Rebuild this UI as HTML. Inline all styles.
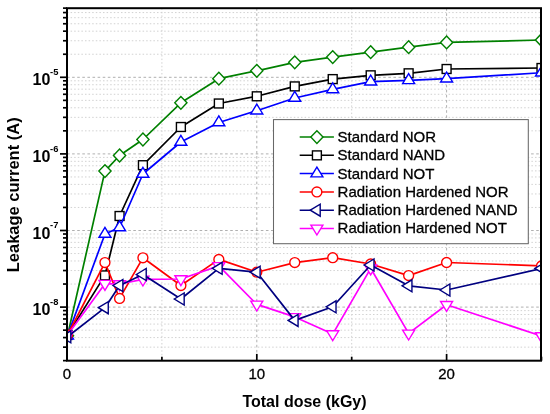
<!DOCTYPE html>
<html><head><meta charset="utf-8"><style>html,body{margin:0;padding:0;background:#fff;width:550px;height:414px;overflow:hidden;position:relative}</style></head>
<body>
<svg width="550" height="414" viewBox="0 0 550 414" style="position:absolute;left:0;top:0">
<defs><clipPath id="pc"><rect x="67.0" y="8.2" width="474.0" height="352.5"/></clipPath></defs>
<line x1="67.0" x2="541.0" y1="347.15" y2="347.15" stroke="#d2d2d2" stroke-width="1" stroke-dasharray="1.5 2.1"/>
<line x1="67.0" x2="541.0" y1="337.58" y2="337.58" stroke="#d2d2d2" stroke-width="1" stroke-dasharray="1.5 2.1"/>
<line x1="67.0" x2="541.0" y1="330.16" y2="330.16" stroke="#d2d2d2" stroke-width="1" stroke-dasharray="1.5 2.1"/>
<line x1="67.0" x2="541.0" y1="324.09" y2="324.09" stroke="#d2d2d2" stroke-width="1" stroke-dasharray="1.5 2.1"/>
<line x1="67.0" x2="541.0" y1="318.97" y2="318.97" stroke="#d2d2d2" stroke-width="1" stroke-dasharray="1.5 2.1"/>
<line x1="67.0" x2="541.0" y1="314.52" y2="314.52" stroke="#d2d2d2" stroke-width="1" stroke-dasharray="1.5 2.1"/>
<line x1="67.0" x2="541.0" y1="310.61" y2="310.61" stroke="#d2d2d2" stroke-width="1" stroke-dasharray="1.5 2.1"/>
<line x1="67.0" x2="541.0" y1="307.10" y2="307.10" stroke="#b0b0b0" stroke-width="1" stroke-dasharray="2.6 2.5"/>
<line x1="67.0" x2="541.0" y1="284.04" y2="284.04" stroke="#d2d2d2" stroke-width="1" stroke-dasharray="1.5 2.1"/>
<line x1="67.0" x2="541.0" y1="270.55" y2="270.55" stroke="#d2d2d2" stroke-width="1" stroke-dasharray="1.5 2.1"/>
<line x1="67.0" x2="541.0" y1="260.98" y2="260.98" stroke="#d2d2d2" stroke-width="1" stroke-dasharray="1.5 2.1"/>
<line x1="67.0" x2="541.0" y1="253.56" y2="253.56" stroke="#d2d2d2" stroke-width="1" stroke-dasharray="1.5 2.1"/>
<line x1="67.0" x2="541.0" y1="247.49" y2="247.49" stroke="#d2d2d2" stroke-width="1" stroke-dasharray="1.5 2.1"/>
<line x1="67.0" x2="541.0" y1="242.37" y2="242.37" stroke="#d2d2d2" stroke-width="1" stroke-dasharray="1.5 2.1"/>
<line x1="67.0" x2="541.0" y1="237.92" y2="237.92" stroke="#d2d2d2" stroke-width="1" stroke-dasharray="1.5 2.1"/>
<line x1="67.0" x2="541.0" y1="234.01" y2="234.01" stroke="#d2d2d2" stroke-width="1" stroke-dasharray="1.5 2.1"/>
<line x1="67.0" x2="541.0" y1="230.50" y2="230.50" stroke="#b0b0b0" stroke-width="1" stroke-dasharray="2.6 2.5"/>
<line x1="67.0" x2="541.0" y1="207.44" y2="207.44" stroke="#d2d2d2" stroke-width="1" stroke-dasharray="1.5 2.1"/>
<line x1="67.0" x2="541.0" y1="193.95" y2="193.95" stroke="#d2d2d2" stroke-width="1" stroke-dasharray="1.5 2.1"/>
<line x1="67.0" x2="541.0" y1="184.38" y2="184.38" stroke="#d2d2d2" stroke-width="1" stroke-dasharray="1.5 2.1"/>
<line x1="67.0" x2="541.0" y1="176.96" y2="176.96" stroke="#d2d2d2" stroke-width="1" stroke-dasharray="1.5 2.1"/>
<line x1="67.0" x2="541.0" y1="170.89" y2="170.89" stroke="#d2d2d2" stroke-width="1" stroke-dasharray="1.5 2.1"/>
<line x1="67.0" x2="541.0" y1="165.77" y2="165.77" stroke="#d2d2d2" stroke-width="1" stroke-dasharray="1.5 2.1"/>
<line x1="67.0" x2="541.0" y1="161.32" y2="161.32" stroke="#d2d2d2" stroke-width="1" stroke-dasharray="1.5 2.1"/>
<line x1="67.0" x2="541.0" y1="157.41" y2="157.41" stroke="#d2d2d2" stroke-width="1" stroke-dasharray="1.5 2.1"/>
<line x1="67.0" x2="541.0" y1="153.90" y2="153.90" stroke="#b0b0b0" stroke-width="1" stroke-dasharray="2.6 2.5"/>
<line x1="67.0" x2="541.0" y1="130.84" y2="130.84" stroke="#d2d2d2" stroke-width="1" stroke-dasharray="1.5 2.1"/>
<line x1="67.0" x2="541.0" y1="117.35" y2="117.35" stroke="#d2d2d2" stroke-width="1" stroke-dasharray="1.5 2.1"/>
<line x1="67.0" x2="541.0" y1="107.78" y2="107.78" stroke="#d2d2d2" stroke-width="1" stroke-dasharray="1.5 2.1"/>
<line x1="67.0" x2="541.0" y1="100.36" y2="100.36" stroke="#d2d2d2" stroke-width="1" stroke-dasharray="1.5 2.1"/>
<line x1="67.0" x2="541.0" y1="94.29" y2="94.29" stroke="#d2d2d2" stroke-width="1" stroke-dasharray="1.5 2.1"/>
<line x1="67.0" x2="541.0" y1="89.17" y2="89.17" stroke="#d2d2d2" stroke-width="1" stroke-dasharray="1.5 2.1"/>
<line x1="67.0" x2="541.0" y1="84.72" y2="84.72" stroke="#d2d2d2" stroke-width="1" stroke-dasharray="1.5 2.1"/>
<line x1="67.0" x2="541.0" y1="80.81" y2="80.81" stroke="#d2d2d2" stroke-width="1" stroke-dasharray="1.5 2.1"/>
<line x1="67.0" x2="541.0" y1="77.30" y2="77.30" stroke="#b0b0b0" stroke-width="1" stroke-dasharray="2.6 2.5"/>
<line x1="67.0" x2="541.0" y1="54.24" y2="54.24" stroke="#d2d2d2" stroke-width="1" stroke-dasharray="1.5 2.1"/>
<line x1="67.0" x2="541.0" y1="40.75" y2="40.75" stroke="#d2d2d2" stroke-width="1" stroke-dasharray="1.5 2.1"/>
<line x1="67.0" x2="541.0" y1="31.18" y2="31.18" stroke="#d2d2d2" stroke-width="1" stroke-dasharray="1.5 2.1"/>
<line x1="67.0" x2="541.0" y1="23.76" y2="23.76" stroke="#d2d2d2" stroke-width="1" stroke-dasharray="1.5 2.1"/>
<line x1="67.0" x2="541.0" y1="17.69" y2="17.69" stroke="#d2d2d2" stroke-width="1" stroke-dasharray="1.5 2.1"/>
<line x1="67.0" x2="541.0" y1="12.57" y2="12.57" stroke="#d2d2d2" stroke-width="1" stroke-dasharray="1.5 2.1"/>
<line x1="161.90" x2="161.90" y1="8.2" y2="360.7" stroke="#d2d2d2" stroke-width="1" stroke-dasharray="1.5 2.1"/>
<line x1="256.80" x2="256.80" y1="8.2" y2="360.7" stroke="#b0b0b0" stroke-width="1" stroke-dasharray="2.6 2.5"/>
<line x1="351.70" x2="351.70" y1="8.2" y2="360.7" stroke="#d2d2d2" stroke-width="1" stroke-dasharray="1.5 2.1"/>
<line x1="446.60" x2="446.60" y1="8.2" y2="360.7" stroke="#b0b0b0" stroke-width="1" stroke-dasharray="2.6 2.5"/>
<g clip-path="url(#pc)">
<polyline points="67.49,335.70 104.96,171.10 119.57,155.50 142.92,139.50 180.88,102.80 218.84,78.70 256.80,70.80 294.76,62.30 332.72,57.10 370.68,52.20 408.64,47.20 446.60,42.40 541.50,40.00" fill="none" stroke="#008000" stroke-width="1.7" stroke-linejoin="round"/>
<path d="M67.49 329.30L73.59 335.70L67.49 342.10L61.39 335.70Z" fill="#fff" stroke="#008000" stroke-width="1.4"/>
<path d="M104.96 164.70L111.06 171.10L104.96 177.50L98.86 171.10Z" fill="#fff" stroke="#008000" stroke-width="1.4"/>
<path d="M119.57 149.10L125.67 155.50L119.57 161.90L113.47 155.50Z" fill="#fff" stroke="#008000" stroke-width="1.4"/>
<path d="M142.92 133.10L149.02 139.50L142.92 145.90L136.82 139.50Z" fill="#fff" stroke="#008000" stroke-width="1.4"/>
<path d="M180.88 96.40L186.98 102.80L180.88 109.20L174.78 102.80Z" fill="#fff" stroke="#008000" stroke-width="1.4"/>
<path d="M218.84 72.30L224.94 78.70L218.84 85.10L212.74 78.70Z" fill="#fff" stroke="#008000" stroke-width="1.4"/>
<path d="M256.80 64.40L262.90 70.80L256.80 77.20L250.70 70.80Z" fill="#fff" stroke="#008000" stroke-width="1.4"/>
<path d="M294.76 55.90L300.86 62.30L294.76 68.70L288.66 62.30Z" fill="#fff" stroke="#008000" stroke-width="1.4"/>
<path d="M332.72 50.70L338.82 57.10L332.72 63.50L326.62 57.10Z" fill="#fff" stroke="#008000" stroke-width="1.4"/>
<path d="M370.68 45.80L376.78 52.20L370.68 58.60L364.58 52.20Z" fill="#fff" stroke="#008000" stroke-width="1.4"/>
<path d="M408.64 40.80L414.74 47.20L408.64 53.60L402.54 47.20Z" fill="#fff" stroke="#008000" stroke-width="1.4"/>
<path d="M446.60 36.00L452.70 42.40L446.60 48.80L440.50 42.40Z" fill="#fff" stroke="#008000" stroke-width="1.4"/>
<path d="M541.50 33.60L547.60 40.00L541.50 46.40L535.40 40.00Z" fill="#fff" stroke="#008000" stroke-width="1.4"/>
<polyline points="67.49,335.00 104.96,275.40 119.57,216.00 142.92,165.20 180.88,127.00 218.84,103.50 256.80,96.30 294.76,86.40 332.72,79.10 370.68,75.30 408.64,73.30 446.60,69.00 541.50,68.00" fill="none" stroke="#000000" stroke-width="1.7" stroke-linejoin="round"/>
<rect x="63.04" y="330.55" width="8.90" height="8.90" fill="#fff" stroke="#000000" stroke-width="1.4"/>
<rect x="100.51" y="270.95" width="8.90" height="8.90" fill="#fff" stroke="#000000" stroke-width="1.4"/>
<rect x="115.12" y="211.55" width="8.90" height="8.90" fill="#fff" stroke="#000000" stroke-width="1.4"/>
<rect x="138.47" y="160.75" width="8.90" height="8.90" fill="#fff" stroke="#000000" stroke-width="1.4"/>
<rect x="176.43" y="122.55" width="8.90" height="8.90" fill="#fff" stroke="#000000" stroke-width="1.4"/>
<rect x="214.39" y="99.05" width="8.90" height="8.90" fill="#fff" stroke="#000000" stroke-width="1.4"/>
<rect x="252.35" y="91.85" width="8.90" height="8.90" fill="#fff" stroke="#000000" stroke-width="1.4"/>
<rect x="290.31" y="81.95" width="8.90" height="8.90" fill="#fff" stroke="#000000" stroke-width="1.4"/>
<rect x="328.27" y="74.65" width="8.90" height="8.90" fill="#fff" stroke="#000000" stroke-width="1.4"/>
<rect x="366.23" y="70.85" width="8.90" height="8.90" fill="#fff" stroke="#000000" stroke-width="1.4"/>
<rect x="404.19" y="68.85" width="8.90" height="8.90" fill="#fff" stroke="#000000" stroke-width="1.4"/>
<rect x="442.15" y="64.55" width="8.90" height="8.90" fill="#fff" stroke="#000000" stroke-width="1.4"/>
<rect x="537.05" y="63.55" width="8.90" height="8.90" fill="#fff" stroke="#000000" stroke-width="1.4"/>
<polyline points="67.49,335.70 104.96,234.00 119.57,227.50 142.92,174.00 180.88,142.00 218.84,122.50 256.80,110.70 294.76,98.00 332.72,89.40 370.68,81.70 408.64,80.30 446.60,78.70 541.50,72.70" fill="none" stroke="#0000ff" stroke-width="1.7" stroke-linejoin="round"/>
<path d="M67.49 329.10L73.49 339.00L61.49 339.00Z" fill="#fff" stroke="#0000ff" stroke-width="1.4"/>
<path d="M104.96 227.40L110.96 237.30L98.96 237.30Z" fill="#fff" stroke="#0000ff" stroke-width="1.4"/>
<path d="M119.57 220.90L125.57 230.80L113.57 230.80Z" fill="#fff" stroke="#0000ff" stroke-width="1.4"/>
<path d="M142.92 167.40L148.92 177.30L136.92 177.30Z" fill="#fff" stroke="#0000ff" stroke-width="1.4"/>
<path d="M180.88 135.40L186.88 145.30L174.88 145.30Z" fill="#fff" stroke="#0000ff" stroke-width="1.4"/>
<path d="M218.84 115.90L224.84 125.80L212.84 125.80Z" fill="#fff" stroke="#0000ff" stroke-width="1.4"/>
<path d="M256.80 104.10L262.80 114.00L250.80 114.00Z" fill="#fff" stroke="#0000ff" stroke-width="1.4"/>
<path d="M294.76 91.40L300.76 101.30L288.76 101.30Z" fill="#fff" stroke="#0000ff" stroke-width="1.4"/>
<path d="M332.72 82.80L338.72 92.70L326.72 92.70Z" fill="#fff" stroke="#0000ff" stroke-width="1.4"/>
<path d="M370.68 75.10L376.68 85.00L364.68 85.00Z" fill="#fff" stroke="#0000ff" stroke-width="1.4"/>
<path d="M408.64 73.70L414.64 83.60L402.64 83.60Z" fill="#fff" stroke="#0000ff" stroke-width="1.4"/>
<path d="M446.60 72.10L452.60 82.00L440.60 82.00Z" fill="#fff" stroke="#0000ff" stroke-width="1.4"/>
<path d="M541.50 66.10L547.50 76.00L535.50 76.00Z" fill="#fff" stroke="#0000ff" stroke-width="1.4"/>
<polyline points="67.49,335.00 104.96,262.60 119.57,298.40 142.92,257.80 180.88,285.50 218.84,259.40 256.80,272.20 294.76,262.60 332.72,257.70 370.68,264.00 408.64,275.60 446.60,262.50 541.50,265.90" fill="none" stroke="#ff0000" stroke-width="1.7" stroke-linejoin="round"/>
<circle cx="67.49" cy="335.00" r="4.95" fill="#fff" stroke="#ff0000" stroke-width="1.4"/>
<circle cx="104.96" cy="262.60" r="4.95" fill="#fff" stroke="#ff0000" stroke-width="1.4"/>
<circle cx="119.57" cy="298.40" r="4.95" fill="#fff" stroke="#ff0000" stroke-width="1.4"/>
<circle cx="142.92" cy="257.80" r="4.95" fill="#fff" stroke="#ff0000" stroke-width="1.4"/>
<circle cx="180.88" cy="285.50" r="4.95" fill="#fff" stroke="#ff0000" stroke-width="1.4"/>
<circle cx="218.84" cy="259.40" r="4.95" fill="#fff" stroke="#ff0000" stroke-width="1.4"/>
<circle cx="256.80" cy="272.20" r="4.95" fill="#fff" stroke="#ff0000" stroke-width="1.4"/>
<circle cx="294.76" cy="262.60" r="4.95" fill="#fff" stroke="#ff0000" stroke-width="1.4"/>
<circle cx="332.72" cy="257.70" r="4.95" fill="#fff" stroke="#ff0000" stroke-width="1.4"/>
<circle cx="370.68" cy="264.00" r="4.95" fill="#fff" stroke="#ff0000" stroke-width="1.4"/>
<circle cx="408.64" cy="275.60" r="4.95" fill="#fff" stroke="#ff0000" stroke-width="1.4"/>
<circle cx="446.60" cy="262.50" r="4.95" fill="#fff" stroke="#ff0000" stroke-width="1.4"/>
<circle cx="541.50" cy="265.90" r="4.95" fill="#fff" stroke="#ff0000" stroke-width="1.4"/>
<polyline points="67.49,335.00 104.96,283.70 119.57,284.00 142.92,279.40 180.88,279.00 218.84,265.90 256.80,304.40 294.76,316.90 332.72,334.10 370.68,268.30 408.64,333.40 446.60,304.80 541.50,336.00" fill="none" stroke="#ff00ff" stroke-width="1.7" stroke-linejoin="round"/>
<path d="M67.49 341.60L73.49 331.70L61.49 331.70Z" fill="#fff" stroke="#ff00ff" stroke-width="1.4"/>
<path d="M104.96 290.30L110.96 280.40L98.96 280.40Z" fill="#fff" stroke="#ff00ff" stroke-width="1.4"/>
<path d="M119.57 290.60L125.57 280.70L113.57 280.70Z" fill="#fff" stroke="#ff00ff" stroke-width="1.4"/>
<path d="M142.92 286.00L148.92 276.10L136.92 276.10Z" fill="#fff" stroke="#ff00ff" stroke-width="1.4"/>
<path d="M180.88 285.60L186.88 275.70L174.88 275.70Z" fill="#fff" stroke="#ff00ff" stroke-width="1.4"/>
<path d="M218.84 272.50L224.84 262.60L212.84 262.60Z" fill="#fff" stroke="#ff00ff" stroke-width="1.4"/>
<path d="M256.80 311.00L262.80 301.10L250.80 301.10Z" fill="#fff" stroke="#ff00ff" stroke-width="1.4"/>
<path d="M294.76 323.50L300.76 313.60L288.76 313.60Z" fill="#fff" stroke="#ff00ff" stroke-width="1.4"/>
<path d="M332.72 340.70L338.72 330.80L326.72 330.80Z" fill="#fff" stroke="#ff00ff" stroke-width="1.4"/>
<path d="M370.68 274.90L376.68 265.00L364.68 265.00Z" fill="#fff" stroke="#ff00ff" stroke-width="1.4"/>
<path d="M408.64 340.00L414.64 330.10L402.64 330.10Z" fill="#fff" stroke="#ff00ff" stroke-width="1.4"/>
<path d="M446.60 311.40L452.60 301.50L440.60 301.50Z" fill="#fff" stroke="#ff00ff" stroke-width="1.4"/>
<path d="M541.50 342.60L547.50 332.70L535.50 332.70Z" fill="#fff" stroke="#ff00ff" stroke-width="1.4"/>
<polyline points="67.49,336.80 104.96,307.70 119.57,285.50 142.92,274.50 180.88,299.00 218.84,268.30 256.80,272.20 294.76,320.40 332.72,306.80 370.68,265.00 408.64,285.80 446.60,290.00 541.50,268.40" fill="none" stroke="#000080" stroke-width="1.7" stroke-linejoin="round"/>
<path d="M60.89 336.80L70.79 330.80L70.79 342.80Z" fill="#fff" stroke="#000080" stroke-width="1.4"/>
<path d="M98.36 307.70L108.26 301.70L108.26 313.70Z" fill="#fff" stroke="#000080" stroke-width="1.4"/>
<path d="M112.97 285.50L122.87 279.50L122.87 291.50Z" fill="#fff" stroke="#000080" stroke-width="1.4"/>
<path d="M136.32 274.50L146.22 268.50L146.22 280.50Z" fill="#fff" stroke="#000080" stroke-width="1.4"/>
<path d="M174.28 299.00L184.18 293.00L184.18 305.00Z" fill="#fff" stroke="#000080" stroke-width="1.4"/>
<path d="M212.24 268.30L222.14 262.30L222.14 274.30Z" fill="#fff" stroke="#000080" stroke-width="1.4"/>
<path d="M250.20 272.20L260.10 266.20L260.10 278.20Z" fill="#fff" stroke="#000080" stroke-width="1.4"/>
<path d="M288.16 320.40L298.06 314.40L298.06 326.40Z" fill="#fff" stroke="#000080" stroke-width="1.4"/>
<path d="M326.12 306.80L336.02 300.80L336.02 312.80Z" fill="#fff" stroke="#000080" stroke-width="1.4"/>
<path d="M364.08 265.00L373.98 259.00L373.98 271.00Z" fill="#fff" stroke="#000080" stroke-width="1.4"/>
<path d="M402.04 285.80L411.94 279.80L411.94 291.80Z" fill="#fff" stroke="#000080" stroke-width="1.4"/>
<path d="M440.00 290.00L449.90 284.00L449.90 296.00Z" fill="#fff" stroke="#000080" stroke-width="1.4"/>
<path d="M534.90 268.40L544.80 262.40L544.80 274.40Z" fill="#fff" stroke="#000080" stroke-width="1.4"/>
</g>
<rect x="67.0" y="8.2" width="474.0" height="352.5" fill="none" stroke="#000" stroke-width="2"/>
<line x1="63.0" x2="67.0" y1="360.64" y2="360.64" stroke="#000" stroke-width="1.7"/>
<line x1="63.0" x2="67.0" y1="347.15" y2="347.15" stroke="#000" stroke-width="1.7"/>
<line x1="63.0" x2="67.0" y1="337.58" y2="337.58" stroke="#000" stroke-width="1.7"/>
<line x1="63.0" x2="67.0" y1="330.16" y2="330.16" stroke="#000" stroke-width="1.7"/>
<line x1="63.0" x2="67.0" y1="324.09" y2="324.09" stroke="#000" stroke-width="1.7"/>
<line x1="63.0" x2="67.0" y1="318.97" y2="318.97" stroke="#000" stroke-width="1.7"/>
<line x1="63.0" x2="67.0" y1="314.52" y2="314.52" stroke="#000" stroke-width="1.7"/>
<line x1="63.0" x2="67.0" y1="310.61" y2="310.61" stroke="#000" stroke-width="1.7"/>
<line x1="60.0" x2="67.0" y1="307.10" y2="307.10" stroke="#000" stroke-width="1.7"/>
<line x1="63.0" x2="67.0" y1="284.04" y2="284.04" stroke="#000" stroke-width="1.7"/>
<line x1="63.0" x2="67.0" y1="270.55" y2="270.55" stroke="#000" stroke-width="1.7"/>
<line x1="63.0" x2="67.0" y1="260.98" y2="260.98" stroke="#000" stroke-width="1.7"/>
<line x1="63.0" x2="67.0" y1="253.56" y2="253.56" stroke="#000" stroke-width="1.7"/>
<line x1="63.0" x2="67.0" y1="247.49" y2="247.49" stroke="#000" stroke-width="1.7"/>
<line x1="63.0" x2="67.0" y1="242.37" y2="242.37" stroke="#000" stroke-width="1.7"/>
<line x1="63.0" x2="67.0" y1="237.92" y2="237.92" stroke="#000" stroke-width="1.7"/>
<line x1="63.0" x2="67.0" y1="234.01" y2="234.01" stroke="#000" stroke-width="1.7"/>
<line x1="60.0" x2="67.0" y1="230.50" y2="230.50" stroke="#000" stroke-width="1.7"/>
<line x1="63.0" x2="67.0" y1="207.44" y2="207.44" stroke="#000" stroke-width="1.7"/>
<line x1="63.0" x2="67.0" y1="193.95" y2="193.95" stroke="#000" stroke-width="1.7"/>
<line x1="63.0" x2="67.0" y1="184.38" y2="184.38" stroke="#000" stroke-width="1.7"/>
<line x1="63.0" x2="67.0" y1="176.96" y2="176.96" stroke="#000" stroke-width="1.7"/>
<line x1="63.0" x2="67.0" y1="170.89" y2="170.89" stroke="#000" stroke-width="1.7"/>
<line x1="63.0" x2="67.0" y1="165.77" y2="165.77" stroke="#000" stroke-width="1.7"/>
<line x1="63.0" x2="67.0" y1="161.32" y2="161.32" stroke="#000" stroke-width="1.7"/>
<line x1="63.0" x2="67.0" y1="157.41" y2="157.41" stroke="#000" stroke-width="1.7"/>
<line x1="60.0" x2="67.0" y1="153.90" y2="153.90" stroke="#000" stroke-width="1.7"/>
<line x1="63.0" x2="67.0" y1="130.84" y2="130.84" stroke="#000" stroke-width="1.7"/>
<line x1="63.0" x2="67.0" y1="117.35" y2="117.35" stroke="#000" stroke-width="1.7"/>
<line x1="63.0" x2="67.0" y1="107.78" y2="107.78" stroke="#000" stroke-width="1.7"/>
<line x1="63.0" x2="67.0" y1="100.36" y2="100.36" stroke="#000" stroke-width="1.7"/>
<line x1="63.0" x2="67.0" y1="94.29" y2="94.29" stroke="#000" stroke-width="1.7"/>
<line x1="63.0" x2="67.0" y1="89.17" y2="89.17" stroke="#000" stroke-width="1.7"/>
<line x1="63.0" x2="67.0" y1="84.72" y2="84.72" stroke="#000" stroke-width="1.7"/>
<line x1="63.0" x2="67.0" y1="80.81" y2="80.81" stroke="#000" stroke-width="1.7"/>
<line x1="60.0" x2="67.0" y1="77.30" y2="77.30" stroke="#000" stroke-width="1.7"/>
<line x1="63.0" x2="67.0" y1="54.24" y2="54.24" stroke="#000" stroke-width="1.7"/>
<line x1="63.0" x2="67.0" y1="40.75" y2="40.75" stroke="#000" stroke-width="1.7"/>
<line x1="63.0" x2="67.0" y1="31.18" y2="31.18" stroke="#000" stroke-width="1.7"/>
<line x1="63.0" x2="67.0" y1="23.76" y2="23.76" stroke="#000" stroke-width="1.7"/>
<line x1="63.0" x2="67.0" y1="17.69" y2="17.69" stroke="#000" stroke-width="1.7"/>
<line x1="63.0" x2="67.0" y1="12.57" y2="12.57" stroke="#000" stroke-width="1.7"/>
<line x1="63.0" x2="67.0" y1="8.12" y2="8.12" stroke="#000" stroke-width="1.7"/>
<line x1="67.00" x2="67.00" y1="353.9" y2="360.7" stroke="#000" stroke-width="1.7"/>
<line x1="161.90" x2="161.90" y1="356.7" y2="360.7" stroke="#000" stroke-width="1.7"/>
<line x1="256.80" x2="256.80" y1="353.9" y2="360.7" stroke="#000" stroke-width="1.7"/>
<line x1="351.70" x2="351.70" y1="356.7" y2="360.7" stroke="#000" stroke-width="1.7"/>
<line x1="446.60" x2="446.60" y1="353.9" y2="360.7" stroke="#000" stroke-width="1.7"/>
<line x1="541.50" x2="541.50" y1="356.7" y2="360.7" stroke="#000" stroke-width="1.7"/>
<text x="67.00" y="379.2" text-anchor="middle" style="font-family:'Liberation Sans',Arial,sans-serif;font-size:15px" stroke="#000" stroke-width="0.3">0</text>
<text x="256.80" y="379.2" text-anchor="middle" style="font-family:'Liberation Sans',Arial,sans-serif;font-size:15px" stroke="#000" stroke-width="0.3">10</text>
<text x="446.60" y="379.2" text-anchor="middle" style="font-family:'Liberation Sans',Arial,sans-serif;font-size:15px" stroke="#000" stroke-width="0.3">20</text>
<text x="50.3" y="85.30" text-anchor="end" style="font-family:'Liberation Sans',Arial,sans-serif;font-size:16px;font-weight:bold">10</text>
<text x="50.1" y="74.90" style="font-family:'Liberation Sans',Arial,sans-serif;font-size:9.4px;font-weight:bold">-5</text>
<text x="50.3" y="161.90" text-anchor="end" style="font-family:'Liberation Sans',Arial,sans-serif;font-size:16px;font-weight:bold">10</text>
<text x="50.1" y="151.50" style="font-family:'Liberation Sans',Arial,sans-serif;font-size:9.4px;font-weight:bold">-6</text>
<text x="50.3" y="238.50" text-anchor="end" style="font-family:'Liberation Sans',Arial,sans-serif;font-size:16px;font-weight:bold">10</text>
<text x="50.1" y="228.10" style="font-family:'Liberation Sans',Arial,sans-serif;font-size:9.4px;font-weight:bold">-7</text>
<text x="50.3" y="315.10" text-anchor="end" style="font-family:'Liberation Sans',Arial,sans-serif;font-size:16px;font-weight:bold">10</text>
<text x="50.1" y="304.70" style="font-family:'Liberation Sans',Arial,sans-serif;font-size:9.4px;font-weight:bold">-8</text>
<text x="304.5" y="407.0" text-anchor="middle" style="font-family:'Liberation Sans',Arial,sans-serif;font-size:16px;font-weight:bold">Total dose (kGy)</text>
<text transform="translate(18.9 194.8) rotate(-90)" text-anchor="middle" style="font-family:'Liberation Sans',Arial,sans-serif;font-size:16.5px;font-weight:bold">Leakage current (A)</text>
<rect x="273.5" y="119.6" width="254.79999999999995" height="124.1" fill="#fff" stroke="#686868" stroke-width="1.05"/>
<line x1="299.7" x2="333.9" y1="137.10" y2="137.10" stroke="#008000" stroke-width="1.5"/>
<path d="M316.90 130.70L323.00 137.10L316.90 143.50L310.80 137.10Z" fill="#fff" stroke="#008000" stroke-width="1.4"/>
<text x="337.6" y="142.10" style="font-family:'Liberation Sans',Arial,sans-serif;font-size:15px" stroke="#000" stroke-width="0.3">Standard NOR</text>
<line x1="299.7" x2="333.9" y1="155.36" y2="155.36" stroke="#000000" stroke-width="1.5"/>
<rect x="312.45" y="150.91" width="8.90" height="8.90" fill="#fff" stroke="#000000" stroke-width="1.4"/>
<text x="337.6" y="160.36" style="font-family:'Liberation Sans',Arial,sans-serif;font-size:15px" stroke="#000" stroke-width="0.3">Standard NAND</text>
<line x1="299.7" x2="333.9" y1="173.62" y2="173.62" stroke="#0000ff" stroke-width="1.5"/>
<path d="M316.90 167.02L322.90 176.92L310.90 176.92Z" fill="#fff" stroke="#0000ff" stroke-width="1.4"/>
<text x="337.6" y="178.62" style="font-family:'Liberation Sans',Arial,sans-serif;font-size:15px" stroke="#000" stroke-width="0.3">Standard NOT</text>
<line x1="299.7" x2="333.9" y1="191.88" y2="191.88" stroke="#ff0000" stroke-width="1.5"/>
<circle cx="316.90" cy="191.88" r="4.95" fill="#fff" stroke="#ff0000" stroke-width="1.4"/>
<text x="337.6" y="196.88" style="font-family:'Liberation Sans',Arial,sans-serif;font-size:15px" stroke="#000" stroke-width="0.3">Radiation Hardened NOR</text>
<line x1="299.7" x2="333.9" y1="210.14" y2="210.14" stroke="#000080" stroke-width="1.5"/>
<path d="M310.30 210.14L320.20 204.14L320.20 216.14Z" fill="#fff" stroke="#000080" stroke-width="1.4"/>
<text x="337.6" y="215.14" style="font-family:'Liberation Sans',Arial,sans-serif;font-size:15px" stroke="#000" stroke-width="0.3">Radiation Hardened NAND</text>
<line x1="299.7" x2="333.9" y1="228.40" y2="228.40" stroke="#ff00ff" stroke-width="1.5"/>
<path d="M316.90 235.00L322.90 225.10L310.90 225.10Z" fill="#fff" stroke="#ff00ff" stroke-width="1.4"/>
<text x="337.6" y="233.40" style="font-family:'Liberation Sans',Arial,sans-serif;font-size:15px" stroke="#000" stroke-width="0.3">Radiation Hardened NOT</text>
</svg>
</body></html>
